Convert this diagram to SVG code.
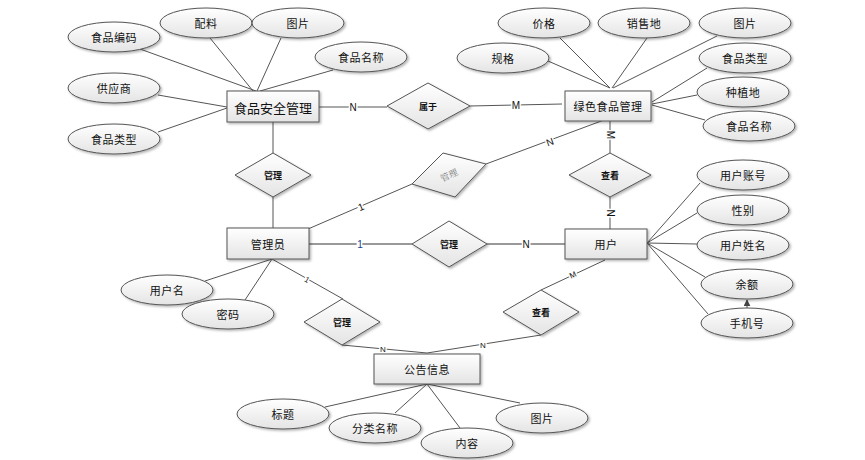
<svg xmlns="http://www.w3.org/2000/svg" width="865" height="460" viewBox="0 0 865 460">
<defs>
<linearGradient id="g" x1="0" y1="0" x2="0" y2="1">
<stop offset="0" stop-color="#ffffff"/>
<stop offset="1" stop-color="#e4e4e4"/>
</linearGradient>
<filter id="sh" x="-20%" y="-20%" width="140%" height="150%">
<feDropShadow dx="1.5" dy="1.5" stdDeviation="1" flood-color="#000" flood-opacity="0.3"/>
</filter>
<marker id="arr" viewBox="0 0 10 10" refX="9" refY="5" markerWidth="7" markerHeight="7" orient="auto">
<path d="M0,0 L10,5 L0,10 z" fill="#444"/>
</marker>
</defs>
<style>
ellipse, rect, polygon.d { fill: url(#g); stroke: #555; stroke-width: 1; filter: url(#sh); }
text { font-family: "Noto Sans CJK SC", "Liberation Sans", sans-serif; fill: #111; text-anchor: middle; dominant-baseline: central; }
.a { font-size: 11px; letter-spacing: 0.5px; }
.e { font-size: 11px; letter-spacing: 0.5px; }
.big { font-size: 13px; }
.r { font-size: 9px; font-weight: bold; }
.c line, .c polyline { stroke: #555; stroke-width: 1; fill: none; }
.c .thick { stroke: #999; stroke-width: 2; }
.lbl { font-family: "Liberation Sans", sans-serif; font-size: 10px; stroke: #fff; stroke-width: 3; paint-order: stroke; }
</style>

<g id="connectors" class="c">
<line x1="140" y1="49" x2="256" y2="91"/>
<line x1="210" y1="38" x2="253" y2="91"/>
<line x1="281" y1="38" x2="257" y2="91"/>
<line x1="333" y1="70" x2="260" y2="91"/>
<line x1="158" y1="95" x2="227" y2="107"/>
<line x1="158" y1="132" x2="227" y2="108"/>
<line x1="548" y1="61" x2="610" y2="88"/>
<line x1="560" y1="38" x2="610" y2="88"/>
<line x1="647" y1="38" x2="612" y2="88"/>
<line x1="717" y1="36" x2="613" y2="88"/>
<line x1="652" y1="102" x2="707" y2="68"/>
<line x1="652" y1="104" x2="697" y2="95"/>
<line x1="652" y1="105" x2="705" y2="120"/>
<line x1="319" y1="107" x2="387" y2="107"/>
<line x1="470" y1="106" x2="562" y2="104"/>
<line x1="273" y1="122" x2="273" y2="153"/>
<line x1="273" y1="197" x2="273" y2="228"/>
<line x1="308" y1="229" x2="412" y2="184"/>
<line x1="486" y1="164" x2="612" y2="117"/>
<line x1="610" y1="121" x2="610" y2="153"/>
<line x1="610" y1="197" x2="610" y2="229"/>
<line class="thick" x1="309" y1="244" x2="412" y2="244"/>
<line class="thick" x1="487" y1="244" x2="565" y2="244"/>
<line x1="272" y1="259" x2="205" y2="281"/>
<line x1="272" y1="259" x2="245" y2="300"/>
<line x1="272" y1="259" x2="343" y2="299"/>
<polyline points="342,345 427,353"/>
<line x1="605" y1="260" x2="541" y2="290"/>
<polyline points="541,335 427,353"/>
<line x1="427" y1="384" x2="325" y2="407"/>
<line x1="427" y1="384" x2="395" y2="413"/>
<line x1="427" y1="384" x2="460" y2="428"/>
<line x1="427" y1="384" x2="520" y2="403"/>
<line x1="647" y1="243" x2="700" y2="183"/>
<line x1="647" y1="243" x2="697" y2="213"/>
<line x1="647" y1="243" x2="697" y2="244"/>
<line x1="647" y1="243" x2="705" y2="277"/>
<line x1="647" y1="243" x2="708" y2="314"/>
<line x1="747" y1="308" x2="747" y2="300" marker-end="url(#arr)"/>
<text class="lbl" x="353" y="107">N</text>
<text class="lbl" x="516" y="105">M</text>
<text class="lbl" x="361" y="207" transform="rotate(-23 361 207)">1</text>
<text class="lbl" x="550" y="142" transform="rotate(-20 550 142)">N</text>
<text class="lbl" x="610" y="135" transform="rotate(90 610 135)">M</text>
<text class="lbl" x="610" y="213" transform="rotate(90 610 213)">N</text>
<text class="lbl" x="360" y="244" style="fill:#1a3f8f">1</text>
<text class="lbl" x="526" y="244">N</text>
<text class="lbl" x="307" y="280" transform="rotate(30 307 280)" style="font-size:8px">1</text>
<text class="lbl" x="383" y="349" style="font-size:8px">N</text>
<text class="lbl" x="483" y="345" style="font-size:8px">N</text>
<text class="lbl" x="573" y="275" transform="rotate(-25 573 275)" style="font-size:8px">M</text>
</g>

<g id="n-food-safety"><rect x="227" y="91" width="92" height="31"/><text class="big" x="273" y="107">食品安全管理</text></g>
<g id="n-green-food"><rect x="565" y="91" width="86" height="30"/><text class="e" x="608" y="106">绿色食品管理</text></g>
<g id="n-admin"><rect x="227" y="228" width="82" height="31"/><text class="e" x="268" y="244">管理员</text></g>
<g id="n-user"><rect x="565" y="229" width="82" height="30"/><text class="e" x="606" y="244">用户</text></g>
<g id="n-notice"><rect x="374" y="354" width="106" height="30"/><text class="e" x="427" y="369">公告信息</text></g>

<g id="r-belong"><polygon class="d" points="387,106 428,83 470,106 428,129"/><text class="r" x="428" y="106">属于</text></g>
<g id="r-manage1"><polygon class="d" points="235,175 273,153 311,175 273,197"/><text class="r" x="273" y="175">管理</text></g>
<g id="r-manage2"><polygon class="d" points="412,184 443,153 486,164 455,197"/><text class="r" x="449" y="175" transform="rotate(-25 449 175)" style="fill:#777;font-weight:normal;font-family:'Noto Serif CJK SC','Noto Sans CJK SC',serif">管理</text></g>
<g id="r-view1"><polygon class="d" points="569,175 610,153 651,175 610,197"/><text class="r" x="610" y="175">查看</text></g>
<g id="r-manage3"><polygon class="d" points="412,244 449,221 487,244 449,267"/><text class="r" x="449" y="244">管理</text></g>
<g id="r-manage4"><polygon class="d" points="304,322 342,299 380,322 342,345"/><text class="r" x="342" y="322">管理</text></g>
<g id="r-view2"><polygon class="d" points="503,312 541,290 579,312 541,335"/><text class="r" x="541" y="312">查看</text></g>

<g id="a-food-code"><ellipse cx="114" cy="37" rx="46" ry="15"/><text class="a" x="114" y="37">食品编码</text></g>
<g id="a-ingredient"><ellipse cx="206" cy="23" rx="46" ry="15"/><text class="a" x="206" y="23">配料</text></g>
<g id="a-pic1"><ellipse cx="298" cy="23" rx="46" ry="15"/><text class="a" x="298" y="23">图片</text></g>
<g id="a-name1"><ellipse cx="361" cy="57" rx="46" ry="15"/><text class="a" x="361" y="57">食品名称</text></g>
<g id="a-supplier"><ellipse cx="114" cy="88" rx="46" ry="15"/><text class="a" x="114" y="88">供应商</text></g>
<g id="a-type1"><ellipse cx="114" cy="139" rx="46" ry="15"/><text class="a" x="114" y="139">食品类型</text></g>

<g id="a-spec"><ellipse cx="503" cy="58" rx="46" ry="15"/><text class="a" x="503" y="58">规格</text></g>
<g id="a-price"><ellipse cx="544" cy="23" rx="46" ry="15"/><text class="a" x="544" y="23">价格</text></g>
<g id="a-sale"><ellipse cx="644" cy="23" rx="46" ry="15"/><text class="a" x="644" y="23">销售地</text></g>
<g id="a-pic2"><ellipse cx="745" cy="23" rx="46" ry="15"/><text class="a" x="745" y="23">图片</text></g>
<g id="a-type2"><ellipse cx="745" cy="58" rx="46" ry="15"/><text class="a" x="745" y="58">食品类型</text></g>
<g id="a-plant"><ellipse cx="743" cy="92" rx="46" ry="15"/><text class="a" x="743" y="92">种植地</text></g>
<g id="a-name2"><ellipse cx="749" cy="126" rx="46" ry="15"/><text class="a" x="749" y="126">食品名称</text></g>

<g id="a-account"><ellipse cx="743" cy="175" rx="46" ry="15"/><text class="a" x="743" y="175">用户账号</text></g>
<g id="a-gender"><ellipse cx="743" cy="210" rx="46" ry="15"/><text class="a" x="743" y="210">性别</text></g>
<g id="a-uname"><ellipse cx="743" cy="245" rx="46" ry="15"/><text class="a" x="743" y="245">用户姓名</text></g>
<g id="a-balance"><ellipse cx="747" cy="284" rx="46" ry="15"/><text class="a" x="747" y="284">余额</text></g>
<g id="a-phone"><ellipse cx="747" cy="323" rx="46" ry="15"/><text class="a" x="747" y="323">手机号</text></g>

<g id="a-username"><ellipse cx="167" cy="290" rx="46" ry="15"/><text class="a" x="167" y="290">用户名</text></g>
<g id="a-password"><ellipse cx="228" cy="314" rx="46" ry="15"/><text class="a" x="228" y="314">密码</text></g>

<g id="a-title"><ellipse cx="283" cy="414" rx="46" ry="15"/><text class="a" x="283" y="414">标题</text></g>
<g id="a-category"><ellipse cx="375" cy="428" rx="46" ry="15"/><text class="a" x="375" y="428">分类名称</text></g>
<g id="a-content"><ellipse cx="467" cy="443" rx="46" ry="15"/><text class="a" x="467" y="443">内容</text></g>
<g id="a-pic3"><ellipse cx="542" cy="418" rx="46" ry="15"/><text class="a" x="542" y="418">图片</text></g>
</svg>
